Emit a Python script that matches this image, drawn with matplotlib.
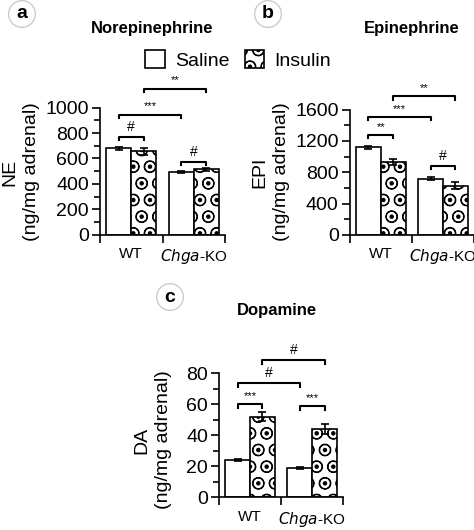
import numpy as np
import matplotlib
matplotlib.use('Agg')
import matplotlib.pyplot as plt
from matplotlib.patches import Patch

plt.rcParams['font.family'] = ['Liberation Sans', 'DejaVu Sans']
plt.rcParams['hatch.linewidth'] = 0.8

groups = ['WT', 'Chga-KO']
ne_saline = [680, 490]
ne_saline_err = [12, 8]
ne_insulin = [655, 515]
ne_insulin_err = [25, 12]
epi_saline = [1120, 720]
epi_saline_err = [20, 20]
epi_insulin = [930, 630]
epi_insulin_err = [35, 45]
da_saline = [24, 19]
da_saline_err = [0.8, 0.6]
da_insulin = [52, 44]
da_insulin_err = [3, 3]

# brackets: (x1, x2, y, label)
ne_brackets = [(-0.2, 0.2, 772, '#'), (0.8, 1.2, 575, '#'),
               (-0.2, 0.8, 945, '***'), (0.2, 1.2, 1150, '**')]
epi_brackets = [(-0.2, 0.2, 1280, '**'), (0.8, 1.2, 885, '#'),
                (-0.2, 0.8, 1510, '***'), (0.2, 1.2, 1770, '**')]
da_brackets = [(-0.2, 0.2, 60, '***'), (0.8, 1.2, 58.7, '***'),
               (-0.2, 0.8, 73.5, '#'), (0.2, 1.2, 88.4, '#')]

fig = plt.figure(figsize=(4.74, 5.30), dpi=100)


def panel(rect, sal, sal_err, ins, ins_err, ymax, major, minor, brackets):
    ax = fig.add_axes(rect)
    x = np.arange(len(groups))
    w = 0.4
    ax.bar(x - w / 2, sal, w, color='white', edgecolor='black', lw=1.2,
           yerr=sal_err, error_kw=dict(lw=1.2, capsize=3, capthick=1.2))
    ax.bar(x + w / 2, ins, w, color='white', edgecolor='black', lw=1.2,
           hatch='O.', yerr=ins_err, error_kw=dict(lw=1.2, capsize=3, capthick=1.2))
    ax.set_xlim(-0.5, 1.5)
    ax.set_ylim(0, ymax)
    ax.set_yticks(np.arange(0, ymax + 1, major))
    ax.set_yticks(np.arange(0, ymax + 1, minor), minor=True)
    ax.set_xticks([-0.5, 0.5, 1.5])
    ax.set_xticklabels([])
    ax.set_xticks([0, 1], minor=True)
    ax.set_xticklabels(['WT', '$\\it{Chga}$-KO'], minor=True, fontsize=11)
    ax.tick_params(axis='x', which='minor', length=0, pad=9)
    ax.tick_params(axis='x', which='major', length=6, width=1.2)
    ax.tick_params(axis='y', which='both', width=1.2, labelsize=14, pad=2)
    ax.tick_params(axis='y', which='major', length=6)
    ax.tick_params(axis='y', which='minor', length=4)
    for s in ['top', 'right']:
        ax.spines[s].set_visible(False)
    for s in ['left', 'bottom']:
        ax.spines[s].set_linewidth(1.2)
    d = ymax * 0.03
    for x1, x2, y, lab in brackets:
        ax.plot([x1, x1, x2, x2], [y - d, y, y, y - d], color='black', lw=1.5,
                clip_on=False)
        ax.text((x1 + x2) / 2, y + d * 0.8, lab, ha='center', va='bottom',
                fontsize=8 if '*' in lab else 10, clip_on=False)
    return ax


panel([0.211, 0.557, 0.264, 0.240], ne_saline, ne_saline_err, ne_insulin, ne_insulin_err,
      1000, 200, 100, ne_brackets)
panel([0.738, 0.557, 0.262, 0.236], epi_saline, epi_saline_err, epi_insulin, epi_insulin_err,
      1600, 400, 200, epi_brackets)
panel([0.462, 0.062, 0.262, 0.234], da_saline, da_saline_err, da_insulin, da_insulin_err,
      80, 20, 10, da_brackets)


def px(x, y):
    return x / 474, 1 - y / 530


badge = dict(boxstyle='circle,pad=0.25', fc='white', ec='#cccccc', lw=1)
for lab, (bx, by) in [('a', (22, 14)), ('b', (268, 14)), ('c', (170, 297))]:
    fig.text(*px(bx, by), lab, fontsize=14, fontweight='bold', ha='center', va='center',
             bbox=badge)
fig.text(*px(152, 29), 'Norepinephrine', fontsize=12, fontweight='bold', ha='center', va='center')
fig.text(*px(412, 29), 'Epinephrine', fontsize=12, fontweight='bold', ha='center', va='center')
fig.text(*px(277, 311), 'Dopamine', fontsize=12, fontweight='bold', ha='center', va='center')

for name, xa, xb, yc in [('NE', 10, 32, 172), ('EPI', 260, 282, 172), ('DA', 142, 163, 440)]:
    fig.text(*px(xa, yc), name, fontsize=14, rotation=90, ha='center', va='center')
    fig.text(*px(xb, yc), '(ng/mg adrenal)', fontsize=14, rotation=90, ha='center', va='center')

handles = [Patch(fc='white', ec='black', lw=1.2, label='Saline'),
           Patch(fc='white', ec='black', lw=1.2, hatch='O.', label='Insulin')]
fig.legend(handles=handles, loc='center', bbox_to_anchor=px(238, 60), ncol=2,
           frameon=False, fontsize=14, handlelength=1.0, handleheight=1.0,
           columnspacing=0.8, handletextpad=0.5)

fig.savefig('out.png', dpi=100)
